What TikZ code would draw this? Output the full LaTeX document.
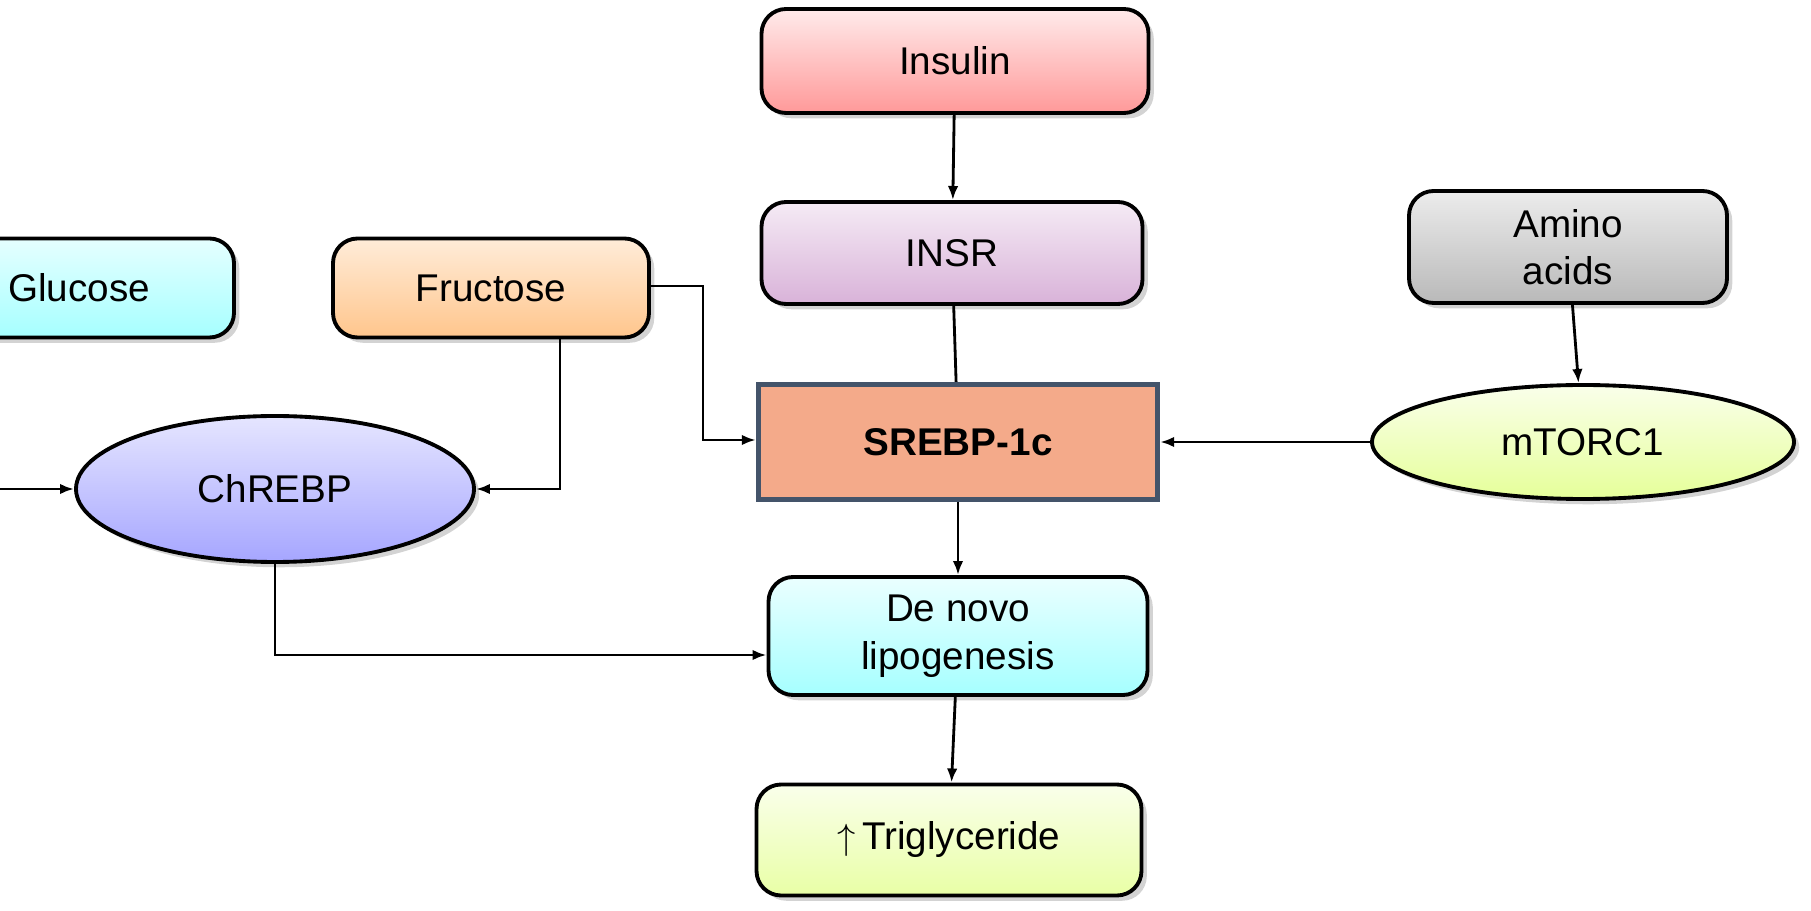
\documentclass[tikz,border=0pt]{standalone}
\usepackage{fontspec}
\setmainfont{Liberation Sans}
\usetikzlibrary{shapes.geometric,shadows,arrows.meta}

\newlength\px
\setlength\px{0.02cm}

\tikzset{
  box/.style={draw=black,line width=2.2pt,rounded corners=14pt,align=center,inner sep=0pt,
    font=\fontsize{22}{27}\selectfont,drop shadow={opacity=0.35,shadow xshift=3pt,shadow yshift=-3pt}},
  blob/.style={ellipse,draw=black,line width=2.2pt,align=center,inner sep=0pt,
    font=\fontsize{22}{27}\selectfont,drop shadow={opacity=0.35,shadow xshift=3pt,shadow yshift=-3pt}},
  link/.style={draw=black,line width=1.6pt},
  arr/.style={link,-{Latex[length=8pt,width=6pt]}}
}

\begin{document}
\begin{tikzpicture}[x=0.02cm,y=-0.02cm]
  \useasboundingbox (0,0) rectangle (1811,911);
  \clip (0,0) rectangle (1811,911);
  % boxes
  \node[box,minimum width=387\px,minimum height=104\px,top color=red!8,bottom color=red!40] (ins) at (955,61) {Insulin};
  \node[box,minimum width=381\px,minimum height=102\px,top color=violet!8,bottom color=violet!30] (insr) at (952,253) {INSR};
  \node[box,minimum width=310\px,minimum height=99\px,top color=cyan!10,bottom color=cyan!35] (glu) at (79,288) {Glucose};
  \node[box,minimum width=316\px,minimum height=99\px,top color=orange!15,bottom color=orange!45] (fru) at (491,288) {Fructose};
  \node[box,minimum width=318\px,minimum height=112\px,top color=gray!15,bottom color=gray!55] (amino) at (1568,247) {Amino\\acids};
  \node[draw={rgb,255:red,68;green,84;blue,106},line width=3pt,fill={rgb,255:red,244;green,170;blue,138},inner sep=0pt,
    minimum width=399\px,minimum height=115\px,font=\fontsize{22}{27}\selectfont\bfseries] (srebp) at (958,442) {SREBP-1c};
  \node[blob,minimum width=422\px,minimum height=114\px,top color=lime!8,bottom color=lime!40] (mtor) at (1583,442) {mTORC1};
  \node[blob,minimum width=398\px,minimum height=146\px,top color=blue!10,bottom color=blue!35] (chre) at (275,489) {ChREBP};
  \node[box,minimum width=379\px,minimum height=118\px,top color=cyan!8,bottom color=cyan!35] (dnl) at (958,636) {De novo\\lipogenesis};
  \node[box,minimum width=385\px,minimum height=111\px,top color=lime!8,bottom color=lime!35] (tri) at (949,840) {$\uparrow$\,Triglyceride};
  \coordinate (edge) at (0,489);
  % connectors
  \draw[arr] (ins) -- (insr);
  \draw[link] (insr) -- (srebp);
  \draw[arr] (srebp) -- (dnl);
  \draw[arr] (dnl) -- (tri);
  \draw[arr] (amino) -- (mtor);
  \draw[arr] (mtor) -- (srebp);
  \draw[arr] (edge) -- (chre);
  \draw[arr] (fru.east |- 0,286) -| (703,440) -- (srebp.west |- 0,440);
  \draw[arr] (fru.south -| 560,0) |- (chre.east);
  \draw[arr] (chre.south) |- (dnl.west |- 0,655);
\end{tikzpicture}
\end{document}
